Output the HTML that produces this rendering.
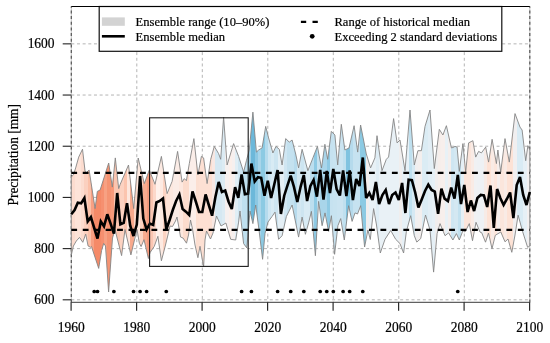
<!DOCTYPE html>
<html><head><meta charset="utf-8"><style>
html,body{margin:0;padding:0;background:#fff;}
#c{position:relative;width:550px;height:343px;overflow:hidden;background:#fff;color:#000;}
#c div{will-change:transform;}
</style></head><body><div id="c">
<svg width="550" height="343" viewBox="0 0 550 343" style="position:absolute;left:0;top:0"><defs><clipPath id="cp"><polygon points="71.3,177.1 73.7,174.3 75.9,167.1 78.7,157.1 82.5,149.2 85.1,171.4 86.5,172.5 89.1,170.0 95.1,208.6 97.3,191.4 100.1,190.0 108.7,163.0 112.3,187.1 115.3,157.9 118.7,188.6 120.2,184.3 128.5,165.0 133.7,208.6 138.2,158.0 144.3,183.6 149.3,170.0 155.0,184.3 161.4,156.4 167.1,193.6 172.1,181.4 177.6,151.4 182.1,182.1 184.3,178.6 186.4,180.7 189.3,163.6 193.9,138.6 197.9,175.0 201.4,156.4 203.6,157.9 207.1,183.6 210.7,159.3 214.3,146.4 218.6,153.6 220.7,159.3 223.6,117.0 227.1,165.0 233.6,143.6 238.6,156.4 243.6,172.0 246.4,160.7 249.3,150.0 252.9,112.1 256.4,152.1 258.6,150.0 262.1,147.9 265.7,126.4 268.6,137.9 272.9,153.0 276.0,146.4 279.3,149.3 282.1,165.0 285.7,138.6 289.3,142.1 292.1,140.0 295.7,154.0 298.6,167.9 302.1,149.3 307.9,170.7 312.9,157.9 317.4,146.4 321.5,168.0 324.9,144.3 327.7,159.3 331.3,131.4 334.9,135.0 337.7,165.0 341.3,124.3 344.9,150.0 346.3,149.3 349.0,148.0 354.1,125.7 357.7,152.1 360.6,125.0 366.3,154.0 370.6,167.9 374.9,157.9 377.0,135.7 382.0,170.7 386.3,159.3 388.6,157.0 393.6,118.6 397.1,142.9 400.0,140.0 405.0,170.7 410.0,110.0 414.3,165.0 417.9,150.7 421.4,150.7 425.0,126.4 430.0,110.0 434.3,168.6 439.3,129.3 442.9,135.0 446.4,125.7 451.4,147.9 453.0,147.5 455.0,146.4 457.1,147.1 459.3,171.4 462.9,143.6 465.7,172.1 468.6,142.9 472.9,140.7 475.7,157.1 478.6,151.4 481.4,152.9 485.7,147.1 488.6,162.1 492.1,139.3 496.4,163.6 497.9,150.0 500.7,172.1 505.0,138.6 509.3,162.1 515.0,113.6 520.0,127.1 522.1,130.0 525.7,160.7 527.9,145.7 529.8,150.0 529.8,246.0 527.6,247.3 522.5,231.2 518.1,215.2 515.0,235.0 511.8,252.3 508.0,239.0 505.0,241.8 500.8,232.0 495.3,235.3 492.0,248.7 488.5,233.0 485.5,242.2 481.7,232.7 480.0,232.1 476.0,222.3 472.5,240.7 469.3,223.6 465.0,232.0 462.9,230.7 459.3,240.0 456.4,233.6 452.9,240.0 448.6,232.9 445.0,235.7 440.0,223.6 437.1,233.6 433.6,272.1 430.0,230.0 425.5,215.0 420.7,238.6 416.8,242.1 414.3,235.7 410.7,215.7 406.4,231.4 403.6,253.0 400.0,243.6 395.7,239.3 390.7,230.5 385.0,239.3 380.3,253.0 376.5,225.0 373.6,208.6 370.3,239.5 367.9,230.0 364.6,247.0 360.7,205.7 357.5,214.0 355.0,212.9 352.1,221.4 348.6,205.7 344.3,240.0 340.7,218.6 337.9,225.7 334.6,254.3 331.4,215.7 328.6,231.4 325.0,212.9 322.1,225.7 318.6,201.4 315.4,255.7 311.4,211.4 308.6,222.9 305.4,234.3 302.1,217.1 298.6,237.1 292.1,205.0 286.4,216.4 282.1,235.7 278.6,239.3 275.0,212.1 272.1,216.4 268.0,222.0 265.0,233.6 262.6,259.3 259.0,230.0 255.7,205.0 252.9,223.6 250.0,211.0 246.8,247.9 243.6,243.6 240.0,211.0 238.6,222.1 235.7,240.0 230.7,239.3 225.9,223.0 221.0,226.0 216.5,216.0 213.0,233.0 210.5,239.0 206.5,231.0 205.0,240.0 203.6,267.0 200.0,246.3 197.9,257.7 195.0,245.0 192.5,229.0 190.5,220.0 188.5,235.0 186.5,243.2 183.0,238.0 180.5,237.0 179.0,228.0 177.0,217.0 175.5,221.0 172.5,226.5 170.0,226.0 168.2,234.0 165.0,247.0 161.4,260.8 157.9,236.3 154.3,246.3 150.0,252.7 148.4,258.5 144.0,239.7 141.1,246.6 139.4,243.4 137.0,229.5 130.9,254.9 125.0,229.5 121.6,255.6 115.0,229.7 112.5,238.0 108.6,292.0 105.5,246.0 103.7,243.4 101.6,250.6 98.7,268.4 91.5,246.5 90.6,247.3 88.1,246.0 85.7,234.1 82.8,242.3 79.5,237.4 76.3,241.0 73.4,246.0 71.3,255.0"/></clipPath></defs><g stroke="#b4b4b4" stroke-width="1" stroke-dasharray="3,2.67" fill="none"><line x1="136.80" y1="302.6" x2="136.80" y2="6.5" stroke-dashoffset="2.0"/><line x1="202.30" y1="302.6" x2="202.30" y2="6.5" stroke-dashoffset="2.0"/><line x1="267.80" y1="302.6" x2="267.80" y2="6.5" stroke-dashoffset="2.0"/><line x1="333.30" y1="302.6" x2="333.30" y2="6.5" stroke-dashoffset="2.0"/><line x1="398.80" y1="302.6" x2="398.80" y2="6.5" stroke-dashoffset="2.0"/><line x1="464.30" y1="302.6" x2="464.30" y2="6.5" stroke-dashoffset="2.0"/><line x1="71.3" y1="299.80" x2="529.8" y2="299.80"/><line x1="71.3" y1="248.61" x2="529.8" y2="248.61"/><line x1="71.3" y1="197.42" x2="529.8" y2="197.42"/><line x1="71.3" y1="146.23" x2="529.8" y2="146.23"/><line x1="71.3" y1="95.04" x2="529.8" y2="95.04"/><line x1="71.3" y1="43.85" x2="529.8" y2="43.85"/></g><line x1="71.30" y1="302.6" x2="71.30" y2="6.5" stroke="#c4c4c4" stroke-width="1"/><line x1="529.80" y1="302.6" x2="529.80" y2="6.5" stroke="#c4c4c4" stroke-width="1"/><g stroke="#555" stroke-width="1.2" stroke-dasharray="3,2.67" fill="none"><line x1="71.30" y1="302.6" x2="71.30" y2="6.5"/><line x1="529.80" y1="302.6" x2="529.80" y2="6.5"/></g><g clip-path="url(#cp)" shape-rendering="crispEdges"><rect x="71.30" y="100" width="3.325" height="200" fill="#fcdccf"/><rect x="74.58" y="100" width="3.325" height="200" fill="#fde3d8"/><rect x="77.85" y="100" width="3.325" height="200" fill="#fde3d8"/><rect x="81.12" y="100" width="3.325" height="200" fill="#fcdccf"/><rect x="84.40" y="100" width="3.325" height="200" fill="#fbd0bf"/><rect x="87.67" y="100" width="3.325" height="200" fill="#fbc0a8"/><rect x="90.95" y="100" width="3.325" height="200" fill="#f7a083"/><rect x="94.22" y="100" width="3.325" height="200" fill="#f58a68"/><rect x="97.50" y="100" width="3.325" height="200" fill="#f58a68"/><rect x="100.77" y="100" width="3.325" height="200" fill="#f69070"/><rect x="104.05" y="100" width="3.325" height="200" fill="#f7a183"/><rect x="107.32" y="100" width="3.325" height="200" fill="#f59372"/><rect x="110.60" y="100" width="3.325" height="200" fill="#f6997a"/><rect x="113.88" y="100" width="3.325" height="200" fill="#fbc5b0"/><rect x="117.15" y="100" width="3.325" height="200" fill="#fbc5b0"/><rect x="120.42" y="100" width="3.325" height="200" fill="#fcd2c1"/><rect x="123.70" y="100" width="3.325" height="200" fill="#fbc4ae"/><rect x="126.97" y="100" width="3.325" height="200" fill="#fde6dc"/><rect x="130.25" y="100" width="3.325" height="200" fill="#f8a98c"/><rect x="133.53" y="100" width="3.325" height="200" fill="#fcd6c6"/><rect x="136.80" y="100" width="3.325" height="200" fill="#fde8de"/><rect x="140.07" y="100" width="3.325" height="200" fill="#fcd3c2"/><rect x="143.35" y="100" width="3.325" height="200" fill="#f8ab8f"/><rect x="146.62" y="100" width="3.325" height="200" fill="#f59a7d"/><rect x="149.90" y="100" width="3.325" height="200" fill="#fbc6b2"/><rect x="153.18" y="100" width="3.325" height="200" fill="#fcd8ca"/><rect x="156.45" y="100" width="3.325" height="200" fill="#fff1eb"/><rect x="159.72" y="100" width="3.325" height="200" fill="#fdeae2"/><rect x="163.00" y="100" width="3.325" height="200" fill="#fcd3c2"/><rect x="166.27" y="100" width="3.325" height="200" fill="#fde2d6"/><rect x="169.55" y="100" width="3.325" height="200" fill="#fde8df"/><rect x="172.82" y="100" width="3.325" height="200" fill="#fbece6"/><rect x="176.10" y="100" width="3.325" height="200" fill="#fbece6"/><rect x="179.38" y="100" width="3.325" height="200" fill="#fde8df"/><rect x="182.65" y="100" width="3.325" height="200" fill="#fcdccd"/><rect x="185.93" y="100" width="3.325" height="200" fill="#fcdccd"/><rect x="189.20" y="100" width="3.325" height="200" fill="#fbeee9"/><rect x="192.47" y="100" width="3.325" height="200" fill="#fbeee9"/><rect x="195.75" y="100" width="3.325" height="200" fill="#fcdfd1"/><rect x="199.02" y="100" width="3.325" height="200" fill="#fde0d3"/><rect x="202.30" y="100" width="3.325" height="200" fill="#fde0d3"/><rect x="205.57" y="100" width="3.325" height="200" fill="#fde0d3"/><rect x="208.85" y="100" width="3.325" height="200" fill="#fde0d3"/><rect x="212.12" y="100" width="3.325" height="200" fill="#f8e8e3"/><rect x="215.40" y="100" width="3.325" height="200" fill="#d5e8f2"/><rect x="218.68" y="100" width="3.325" height="200" fill="#d5e8f2"/><rect x="221.95" y="100" width="3.325" height="200" fill="#dcebf3"/><rect x="225.22" y="100" width="3.325" height="200" fill="#f6f0ef"/><rect x="228.50" y="100" width="3.325" height="200" fill="#fbefea"/><rect x="231.77" y="100" width="3.325" height="200" fill="#f6f0ef"/><rect x="235.05" y="100" width="3.325" height="200" fill="#e0eef5"/><rect x="238.32" y="100" width="3.325" height="200" fill="#cfe6f2"/><rect x="241.60" y="100" width="3.325" height="200" fill="#bfe0ef"/><rect x="244.88" y="100" width="3.325" height="200" fill="#bfe0ef"/><rect x="248.15" y="100" width="3.325" height="200" fill="#a0d1e7"/><rect x="251.43" y="100" width="3.325" height="200" fill="#6cb8da"/><rect x="254.70" y="100" width="3.325" height="200" fill="#8cc8e3"/><rect x="257.97" y="100" width="3.325" height="200" fill="#a8d5ea"/><rect x="261.25" y="100" width="3.325" height="200" fill="#8ccae3"/><rect x="264.52" y="100" width="3.325" height="200" fill="#b5dbed"/><rect x="267.80" y="100" width="3.325" height="200" fill="#cfe6f2"/><rect x="271.07" y="100" width="3.325" height="200" fill="#d8ebf4"/><rect x="274.35" y="100" width="3.325" height="200" fill="#cde5f1"/><rect x="277.62" y="100" width="3.325" height="200" fill="#e4eff5"/><rect x="280.90" y="100" width="3.325" height="200" fill="#e4eff5"/><rect x="284.18" y="100" width="3.325" height="200" fill="#d0e6f2"/><rect x="287.45" y="100" width="3.325" height="200" fill="#c4e1ef"/><rect x="290.72" y="100" width="3.325" height="200" fill="#c4e1ef"/><rect x="294.00" y="100" width="3.325" height="200" fill="#b7dbed"/><rect x="297.27" y="100" width="3.325" height="200" fill="#d4e8f2"/><rect x="300.55" y="100" width="3.325" height="200" fill="#cde5f1"/><rect x="303.82" y="100" width="3.325" height="200" fill="#d9ebf4"/><rect x="307.10" y="100" width="3.325" height="200" fill="#d9ebf4"/><rect x="310.38" y="100" width="3.325" height="200" fill="#bcdeee"/><rect x="313.65" y="100" width="3.325" height="200" fill="#8fcae4"/><rect x="316.93" y="100" width="3.325" height="200" fill="#c6e2f0"/><rect x="320.20" y="100" width="3.325" height="200" fill="#a9d5ea"/><rect x="323.47" y="100" width="3.325" height="200" fill="#a9d5ea"/><rect x="326.75" y="100" width="3.325" height="200" fill="#8fcae4"/><rect x="330.02" y="100" width="3.325" height="200" fill="#c6e2f0"/><rect x="333.30" y="100" width="3.325" height="200" fill="#c8e3f0"/><rect x="336.57" y="100" width="3.325" height="200" fill="#cbe4f1"/><rect x="339.85" y="100" width="3.325" height="200" fill="#cbe4f1"/><rect x="343.12" y="100" width="3.325" height="200" fill="#c0e0ef"/><rect x="346.40" y="100" width="3.325" height="200" fill="#80c3e0"/><rect x="349.68" y="100" width="3.325" height="200" fill="#b5daec"/><rect x="352.95" y="100" width="3.325" height="200" fill="#c6e2f0"/><rect x="356.23" y="100" width="3.325" height="200" fill="#c6e2f0"/><rect x="359.50" y="100" width="3.325" height="200" fill="#8ccae3"/><rect x="362.77" y="100" width="3.325" height="200" fill="#8ccae3"/><rect x="366.05" y="100" width="3.325" height="200" fill="#f0eeee"/><rect x="369.32" y="100" width="3.325" height="200" fill="#e8f1f6"/><rect x="372.60" y="100" width="3.325" height="200" fill="#e8f1f6"/><rect x="375.88" y="100" width="3.325" height="200" fill="#dfedf5"/><rect x="379.15" y="100" width="3.325" height="200" fill="#e9f1f6"/><rect x="382.43" y="100" width="3.325" height="200" fill="#e9f1f6"/><rect x="385.70" y="100" width="3.325" height="200" fill="#e9f1f6"/><rect x="388.98" y="100" width="3.325" height="200" fill="#e9f1f6"/><rect x="392.25" y="100" width="3.325" height="200" fill="#e9f1f6"/><rect x="395.52" y="100" width="3.325" height="200" fill="#e9f1f6"/><rect x="398.80" y="100" width="3.325" height="200" fill="#f0eeee"/><rect x="402.07" y="100" width="3.325" height="200" fill="#e6f0f6"/><rect x="405.35" y="100" width="3.325" height="200" fill="#e6f0f6"/><rect x="408.62" y="100" width="3.325" height="200" fill="#bfe0ef"/><rect x="411.90" y="100" width="3.325" height="200" fill="#d6e9f3"/><rect x="415.18" y="100" width="3.325" height="200" fill="#f0eff0"/><rect x="418.45" y="100" width="3.325" height="200" fill="#f3efee"/><rect x="421.73" y="100" width="3.325" height="200" fill="#dbecf4"/><rect x="425.00" y="100" width="3.325" height="200" fill="#dbecf4"/><rect x="428.27" y="100" width="3.325" height="200" fill="#e2eef5"/><rect x="431.55" y="100" width="3.325" height="200" fill="#e6f0f6"/><rect x="434.82" y="100" width="3.325" height="200" fill="#f0eeee"/><rect x="438.10" y="100" width="3.325" height="200" fill="#f6eeeb"/><rect x="441.38" y="100" width="3.325" height="200" fill="#f7efec"/><rect x="444.65" y="100" width="3.325" height="200" fill="#e8f1f6"/><rect x="447.93" y="100" width="3.325" height="200" fill="#f4eeec"/><rect x="451.20" y="100" width="3.325" height="200" fill="#cfe6f2"/><rect x="454.48" y="100" width="3.325" height="200" fill="#d4e8f2"/><rect x="457.75" y="100" width="3.325" height="200" fill="#c3e1ef"/><rect x="461.02" y="100" width="3.325" height="200" fill="#e5eff5"/><rect x="464.30" y="100" width="3.325" height="200" fill="#fbe5db"/><rect x="467.57" y="100" width="3.325" height="200" fill="#fbe5db"/><rect x="470.85" y="100" width="3.325" height="200" fill="#f9ebe5"/><rect x="474.12" y="100" width="3.325" height="200" fill="#f0f1f3"/><rect x="477.40" y="100" width="3.325" height="200" fill="#eef1f4"/><rect x="480.68" y="100" width="3.325" height="200" fill="#eef1f4"/><rect x="483.95" y="100" width="3.325" height="200" fill="#f7ebe6"/><rect x="487.23" y="100" width="3.325" height="200" fill="#fde2d5"/><rect x="490.50" y="100" width="3.325" height="200" fill="#f9ebe5"/><rect x="493.77" y="100" width="3.325" height="200" fill="#fce6dc"/><rect x="497.05" y="100" width="3.325" height="200" fill="#f5eeec"/><rect x="500.32" y="100" width="3.325" height="200" fill="#fbe6dc"/><rect x="503.60" y="100" width="3.325" height="200" fill="#f9ebe5"/><rect x="506.88" y="100" width="3.325" height="200" fill="#fde2d5"/><rect x="510.15" y="100" width="3.325" height="200" fill="#fde2d5"/><rect x="513.42" y="100" width="3.325" height="200" fill="#f1eff0"/><rect x="516.70" y="100" width="3.325" height="200" fill="#d9ebf4"/><rect x="519.98" y="100" width="3.325" height="200" fill="#d9ebf4"/><rect x="523.25" y="100" width="3.325" height="200" fill="#e6f0f6"/><rect x="526.52" y="100" width="3.325" height="200" fill="#f3f0f0"/></g><polygon points="71.3,177.1 73.7,174.3 75.9,167.1 78.7,157.1 82.5,149.2 85.1,171.4 86.5,172.5 89.1,170.0 95.1,208.6 97.3,191.4 100.1,190.0 108.7,163.0 112.3,187.1 115.3,157.9 118.7,188.6 120.2,184.3 128.5,165.0 133.7,208.6 138.2,158.0 144.3,183.6 149.3,170.0 155.0,184.3 161.4,156.4 167.1,193.6 172.1,181.4 177.6,151.4 182.1,182.1 184.3,178.6 186.4,180.7 189.3,163.6 193.9,138.6 197.9,175.0 201.4,156.4 203.6,157.9 207.1,183.6 210.7,159.3 214.3,146.4 218.6,153.6 220.7,159.3 223.6,117.0 227.1,165.0 233.6,143.6 238.6,156.4 243.6,172.0 246.4,160.7 249.3,150.0 252.9,112.1 256.4,152.1 258.6,150.0 262.1,147.9 265.7,126.4 268.6,137.9 272.9,153.0 276.0,146.4 279.3,149.3 282.1,165.0 285.7,138.6 289.3,142.1 292.1,140.0 295.7,154.0 298.6,167.9 302.1,149.3 307.9,170.7 312.9,157.9 317.4,146.4 321.5,168.0 324.9,144.3 327.7,159.3 331.3,131.4 334.9,135.0 337.7,165.0 341.3,124.3 344.9,150.0 346.3,149.3 349.0,148.0 354.1,125.7 357.7,152.1 360.6,125.0 366.3,154.0 370.6,167.9 374.9,157.9 377.0,135.7 382.0,170.7 386.3,159.3 388.6,157.0 393.6,118.6 397.1,142.9 400.0,140.0 405.0,170.7 410.0,110.0 414.3,165.0 417.9,150.7 421.4,150.7 425.0,126.4 430.0,110.0 434.3,168.6 439.3,129.3 442.9,135.0 446.4,125.7 451.4,147.9 453.0,147.5 455.0,146.4 457.1,147.1 459.3,171.4 462.9,143.6 465.7,172.1 468.6,142.9 472.9,140.7 475.7,157.1 478.6,151.4 481.4,152.9 485.7,147.1 488.6,162.1 492.1,139.3 496.4,163.6 497.9,150.0 500.7,172.1 505.0,138.6 509.3,162.1 515.0,113.6 520.0,127.1 522.1,130.0 525.7,160.7 527.9,145.7 529.8,150.0 529.8,246.0 527.6,247.3 522.5,231.2 518.1,215.2 515.0,235.0 511.8,252.3 508.0,239.0 505.0,241.8 500.8,232.0 495.3,235.3 492.0,248.7 488.5,233.0 485.5,242.2 481.7,232.7 480.0,232.1 476.0,222.3 472.5,240.7 469.3,223.6 465.0,232.0 462.9,230.7 459.3,240.0 456.4,233.6 452.9,240.0 448.6,232.9 445.0,235.7 440.0,223.6 437.1,233.6 433.6,272.1 430.0,230.0 425.5,215.0 420.7,238.6 416.8,242.1 414.3,235.7 410.7,215.7 406.4,231.4 403.6,253.0 400.0,243.6 395.7,239.3 390.7,230.5 385.0,239.3 380.3,253.0 376.5,225.0 373.6,208.6 370.3,239.5 367.9,230.0 364.6,247.0 360.7,205.7 357.5,214.0 355.0,212.9 352.1,221.4 348.6,205.7 344.3,240.0 340.7,218.6 337.9,225.7 334.6,254.3 331.4,215.7 328.6,231.4 325.0,212.9 322.1,225.7 318.6,201.4 315.4,255.7 311.4,211.4 308.6,222.9 305.4,234.3 302.1,217.1 298.6,237.1 292.1,205.0 286.4,216.4 282.1,235.7 278.6,239.3 275.0,212.1 272.1,216.4 268.0,222.0 265.0,233.6 262.6,259.3 259.0,230.0 255.7,205.0 252.9,223.6 250.0,211.0 246.8,247.9 243.6,243.6 240.0,211.0 238.6,222.1 235.7,240.0 230.7,239.3 225.9,223.0 221.0,226.0 216.5,216.0 213.0,233.0 210.5,239.0 206.5,231.0 205.0,240.0 203.6,267.0 200.0,246.3 197.9,257.7 195.0,245.0 192.5,229.0 190.5,220.0 188.5,235.0 186.5,243.2 183.0,238.0 180.5,237.0 179.0,228.0 177.0,217.0 175.5,221.0 172.5,226.5 170.0,226.0 168.2,234.0 165.0,247.0 161.4,260.8 157.9,236.3 154.3,246.3 150.0,252.7 148.4,258.5 144.0,239.7 141.1,246.6 139.4,243.4 137.0,229.5 130.9,254.9 125.0,229.5 121.6,255.6 115.0,229.7 112.5,238.0 108.6,292.0 105.5,246.0 103.7,243.4 101.6,250.6 98.7,268.4 91.5,246.5 90.6,247.3 88.1,246.0 85.7,234.1 82.8,242.3 79.5,237.4 76.3,241.0 73.4,246.0 71.3,255.0" fill="none" stroke="#858585" stroke-width="0.9" stroke-linejoin="round"/><line x1="71.3" y1="172.9" x2="529.8" y2="172.9" stroke="#000" stroke-width="2.2" stroke-dasharray="5.8,5.65"/><line x1="71.3" y1="229.9" x2="529.8" y2="229.9" stroke="#000" stroke-width="2.2" stroke-dasharray="5.8,5.65"/><polyline points="71.3,214.3 74.6,210.0 77.8,202.8 81.1,203.4 84.4,198.0 87.7,221.4 90.9,217.1 94.2,228.0 97.5,238.6 100.8,221.4 104.0,226.4 107.3,214.3 110.6,223.6 113.9,233.6 117.2,193.0 120.4,224.3 123.7,222.9 127.0,203.2 130.2,225.7 133.5,236.0 136.8,224.5 140.1,176.0 143.3,218.6 146.6,229.5 149.9,223.6 153.2,225.0 156.4,202.5 159.7,201.0 163.0,198.5 166.3,229.5 169.6,220.0 172.8,210.0 176.1,201.0 179.4,194.5 182.6,209.0 185.9,211.7 189.2,215.0 192.5,191.4 195.8,201.5 199.0,212.0 202.3,212.0 205.6,194.5 208.8,205.0 212.1,215.7 215.4,197.0 218.7,182.0 221.9,192.0 225.2,190.6 228.5,201.5 231.8,209.0 235.1,187.1 238.3,197.9 241.6,174.5 244.9,194.3 248.1,193.6 251.4,163.6 254.7,181.4 258.0,177.1 261.2,177.9 264.5,195.7 267.8,180.7 271.1,197.9 274.3,184.3 277.6,170.0 280.9,214.0 284.2,195.7 287.4,185.7 290.7,175.7 294.0,187.1 297.3,202.0 300.6,186.8 303.8,175.0 307.1,201.0 310.4,186.0 313.6,180.0 316.9,196.7 320.2,170.0 323.5,199.7 326.8,171.0 330.0,193.0 333.3,169.0 336.6,189.0 339.9,195.5 343.1,170.5 346.4,196.0 349.7,170.5 352.9,200.0 356.2,179.0 359.5,186.0 362.8,157.5 366.1,198.0 369.3,193.0 372.6,200.0 375.9,182.0 379.1,204.0 382.4,195.0 385.7,190.0 389.0,204.0 392.2,195.0 395.5,192.5 398.8,200.0 402.1,183.0 405.4,213.0 408.6,179.7 411.9,180.2 415.2,192.5 418.4,207.6 421.7,199.5 425.0,191.0 428.3,184.7 431.6,190.0 434.8,191.7 438.1,213.8 441.4,188.7 444.6,198.6 447.9,201.0 451.2,187.6 454.5,198.6 457.8,175.0 461.0,204.0 464.3,185.0 467.6,212.0 470.9,200.5 474.1,211.0 477.4,198.0 480.7,195.0 483.9,195.5 487.2,207.0 490.5,185.5 493.8,228.0 497.1,189.0 500.3,198.0 503.6,205.0 506.9,199.0 510.1,192.5 513.4,218.0 516.7,185.0 520.0,177.0 523.2,195.0 526.5,205.0 529.8,192.0" fill="none" stroke="#000" stroke-width="2.6" stroke-linejoin="miter" stroke-miterlimit="3"/><rect x="149.6" y="117.8" width="98.6" height="148.6" fill="none" stroke="#1a1a1a" stroke-width="1.1"/><circle cx="94.22" cy="291.5" r="1.85" fill="#000"/><circle cx="97.50" cy="291.5" r="1.85" fill="#000"/><circle cx="113.88" cy="291.5" r="1.85" fill="#000"/><circle cx="133.53" cy="291.5" r="1.85" fill="#000"/><circle cx="140.07" cy="291.5" r="1.85" fill="#000"/><circle cx="146.62" cy="291.5" r="1.85" fill="#000"/><circle cx="166.27" cy="291.5" r="1.85" fill="#000"/><circle cx="241.60" cy="291.5" r="1.85" fill="#000"/><circle cx="251.43" cy="291.5" r="1.85" fill="#000"/><circle cx="277.62" cy="291.5" r="1.85" fill="#000"/><circle cx="290.72" cy="291.5" r="1.85" fill="#000"/><circle cx="303.82" cy="291.5" r="1.85" fill="#000"/><circle cx="320.20" cy="291.5" r="1.85" fill="#000"/><circle cx="326.75" cy="291.5" r="1.85" fill="#000"/><circle cx="333.30" cy="291.5" r="1.85" fill="#000"/><circle cx="343.12" cy="291.5" r="1.85" fill="#000"/><circle cx="349.68" cy="291.5" r="1.85" fill="#000"/><circle cx="362.77" cy="291.5" r="1.85" fill="#000"/><circle cx="457.75" cy="291.5" r="1.85" fill="#000"/><line x1="71.3" y1="302.3" x2="529.8" y2="302.3" stroke="#3a3a3a" stroke-width="1"/><line x1="71.10" y1="302.3" x2="71.10" y2="310.7" stroke="#2a2a2a" stroke-width="1.2"/><line x1="136.60" y1="302.3" x2="136.60" y2="310.7" stroke="#2a2a2a" stroke-width="1.2"/><line x1="202.10" y1="302.3" x2="202.10" y2="310.7" stroke="#2a2a2a" stroke-width="1.2"/><line x1="267.60" y1="302.3" x2="267.60" y2="310.7" stroke="#2a2a2a" stroke-width="1.2"/><line x1="333.10" y1="302.3" x2="333.10" y2="310.7" stroke="#2a2a2a" stroke-width="1.2"/><line x1="398.60" y1="302.3" x2="398.60" y2="310.7" stroke="#2a2a2a" stroke-width="1.2"/><line x1="464.10" y1="302.3" x2="464.10" y2="310.7" stroke="#2a2a2a" stroke-width="1.2"/><line x1="529.60" y1="302.3" x2="529.60" y2="310.7" stroke="#2a2a2a" stroke-width="1.2"/><line x1="62.7" y1="299.80" x2="71.3" y2="299.80" stroke="#222" stroke-width="1.1"/><line x1="62.7" y1="248.61" x2="71.3" y2="248.61" stroke="#222" stroke-width="1.1"/><line x1="62.7" y1="197.42" x2="71.3" y2="197.42" stroke="#222" stroke-width="1.1"/><line x1="62.7" y1="146.23" x2="71.3" y2="146.23" stroke="#222" stroke-width="1.1"/><line x1="62.7" y1="95.04" x2="71.3" y2="95.04" stroke="#222" stroke-width="1.1"/><line x1="62.7" y1="43.85" x2="71.3" y2="43.85" stroke="#222" stroke-width="1.1"/><rect x="99.2" y="6.5" width="402.6" height="44.8" fill="#fff" stroke="#111" stroke-width="1.2"/><rect x="101.9" y="17.4" width="22.9" height="8.4" fill="#d3d3d3"/><line x1="101.9" y1="36.3" x2="124.8" y2="36.3" stroke="#000" stroke-width="2.6"/><line x1="300.9" y1="21.8" x2="318.4" y2="21.8" stroke="#000" stroke-width="2.2" stroke-dasharray="5.3,6.3"/><circle cx="312.2" cy="36.3" r="2.4" fill="#000"/><line x1="71.3" y1="6.5" x2="529.8" y2="6.5" stroke="#000" stroke-width="1.1"/></svg>
<svg width="550" height="343" style="position:absolute;left:0;top:0;will-change:transform" font-family="Liberation Serif" fill="#000" stroke="#000" stroke-width="0.2"><text transform="translate(135.60,25.80) scale(1,1.05)" font-size="12.55" text-anchor="start">Ensemble range (10–90%)</text><text transform="translate(135.60,40.80) scale(1,1.05)" font-size="12.55" text-anchor="start">Ensemble median</text><text transform="translate(334.50,25.80) scale(1,1.05)" font-size="12.55" text-anchor="start">Range of historical median</text><text transform="translate(334.50,40.80) scale(1,1.05)" font-size="12.55" text-anchor="start">Exceeding 2 standard deviations</text><text transform="translate(54.60,304.40) scale(1,1.05)" font-size="13.5" text-anchor="end">600</text><text transform="translate(54.60,253.21) scale(1,1.05)" font-size="13.5" text-anchor="end">800</text><text transform="translate(54.60,202.02) scale(1,1.05)" font-size="13.5" text-anchor="end">1000</text><text transform="translate(54.60,150.83) scale(1,1.05)" font-size="13.5" text-anchor="end">1200</text><text transform="translate(54.60,99.64) scale(1,1.05)" font-size="13.5" text-anchor="end">1400</text><text transform="translate(54.60,48.45) scale(1,1.05)" font-size="13.5" text-anchor="end">1600</text><text transform="translate(71.30,332.40) scale(1,1.05)" font-size="13.5" text-anchor="middle">1960</text><text transform="translate(136.80,332.40) scale(1,1.05)" font-size="13.5" text-anchor="middle">1980</text><text transform="translate(202.30,332.40) scale(1,1.05)" font-size="13.5" text-anchor="middle">2000</text><text transform="translate(267.80,332.40) scale(1,1.05)" font-size="13.5" text-anchor="middle">2020</text><text transform="translate(333.30,332.40) scale(1,1.05)" font-size="13.5" text-anchor="middle">2040</text><text transform="translate(398.80,332.40) scale(1,1.05)" font-size="13.5" text-anchor="middle">2060</text><text transform="translate(464.30,332.40) scale(1,1.05)" font-size="13.5" text-anchor="middle">2080</text><text transform="translate(529.80,332.40) scale(1,1.05)" font-size="13.5" text-anchor="middle">2100</text><text transform="translate(17.80,154.80) rotate(-90) scale(1,1.05)" font-size="13.4" text-anchor="middle">Precipitation [mm]</text></svg>
</div></body></html>
